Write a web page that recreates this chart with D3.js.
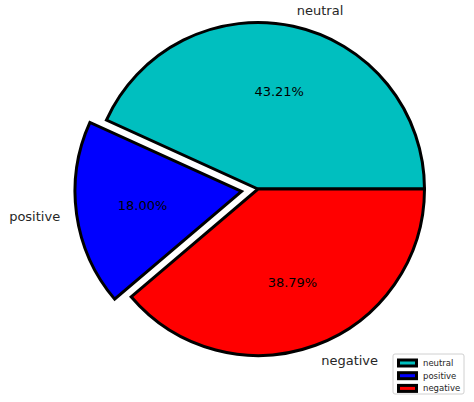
<!DOCTYPE html>
<html><head><meta charset="utf-8">
<script src="https://cdn.jsdelivr.net/npm/d3@7"></script>
<style>body{margin:0;background:#fff}svg{display:block;font-family:"DejaVu Sans",sans-serif}</style>
</head><body><svg id="c" width="474" height="402"></svg>
<script>
const categories = ["neutral", "positive", "negative"];
const values = [43.21, 18.00, 38.79];
const colors = ["#00BFBF", "#0000FF", "#FF0000"];
const explode = [0, 0.1, 0];

const svg = d3.select("#c");
const cx = 258, cy = 189, r = 166.5;
const pie = d3.pie().sort(null).value(d => d.v)
  .startAngle(Math.PI / 2).endAngle(Math.PI / 2 - 2 * Math.PI);
const data = categories.map((c, i) => ({c, v: values[i], col: colors[i], ex: explode[i]}));
const arcs = pie(data);
const arc = d3.arc().innerRadius(0).outerRadius(r);
const total = d3.sum(values);

const g = svg.append("g").attr("transform", `translate(${cx},${cy})`);
arcs.forEach(a => {
  const mid = (a.startAngle + a.endAngle) / 2;
  const off = a.data.ex * r;
  const ox = Math.sin(mid) * off, oy = -Math.cos(mid) * off;
  const gg = g.append("g").attr("transform", `translate(${ox},${oy})`);
  gg.append("path").attr("d", arc(a)).attr("fill", a.data.col)
    .attr("stroke", "#000").attr("stroke-width", 3).attr("stroke-linejoin", "miter");
  const lx = Math.sin(mid) * r * 1.1, ly = -Math.cos(mid) * r * 1.1;
  gg.append("text").attr("x", lx).attr("y", ly)
    .attr("text-anchor", lx > 0 ? "start" : "end").attr("dominant-baseline", "central")
    .attr("font-size", 13).attr("fill", "#262626").text(a.data.c);
  const px = Math.sin(mid) * r * 0.6, py = -Math.cos(mid) * r * 0.6;
  gg.append("text").attr("x", px).attr("y", py)
    .attr("text-anchor", "middle").attr("dominant-baseline", "central")
    .attr("font-size", 13).attr("fill", "#000")
    .text((a.data.v / total * 100).toFixed(2) + "%");
});

// legend
const lg = svg.append("g").attr("transform", "translate(393,354)");
lg.append("rect").attr("x", 0).attr("y", 0).attr("width", 71).attr("height", 40)
  .attr("rx", 2).attr("fill", "#fff").attr("fill-opacity", 0.8)
  .attr("stroke", "#d0d0d0").attr("stroke-width", 1);
data.forEach((d, i) => {
  const y = 6 + i * 12.7;
  lg.append("rect").attr("x", 5.5).attr("y", y).attr("width", 18).attr("height", 6)
    .attr("fill", d.col).attr("stroke", "#000").attr("stroke-width", 3);
  lg.append("text").attr("x", 30).attr("y", y + 3).attr("dominant-baseline", "central")
    .attr("font-size", 8.5).attr("fill", "#262626").text(d.c);
});
</script></body></html>
